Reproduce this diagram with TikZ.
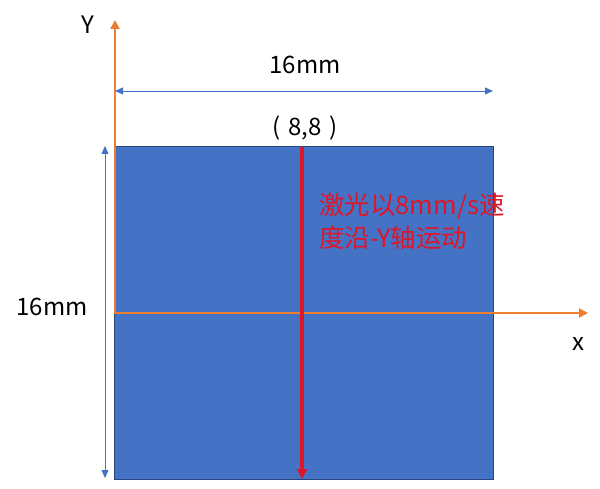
\documentclass[tikz,border=0pt]{standalone}
\usepackage{fontspec}
\setmainfont{Noto Sans CJK SC}
\usetikzlibrary{arrows.meta}
\definecolor{plateblue}{RGB}{68,114,196}
\definecolor{plateedge}{RGB}{40,70,125}
\definecolor{axisorange}{RGB}{237,125,49}
\definecolor{laserred}{RGB}{222,22,42}

\tikzset{
  dimline/.style={draw=plateblue, line width=0.8pt,
    {Triangle[length=8pt,width=7pt]}-{Triangle[length=8pt,width=7pt]}},
  axisline/.style={draw=axisorange, line width=2.8pt, line join=miter,
    {Triangle[length=9pt,width=9pt]}-{Triangle[length=9pt,width=9pt]}},
  lbl/.style={font=\fontsize{24}{27}\selectfont, inner sep=0pt},
}

\begin{document}
\begin{tikzpicture}[x=1pt,y=-1pt]
    \useasboundingbox (0,0) rectangle (600,489);

    % plate
    \draw[fill=plateblue, draw=plateedge, line width=1pt] (114,147) rectangle (493,479);

    % dimension arrows
    \coordinate (wl) at (115,91);
    \coordinate (wr) at (493,91);
    \coordinate (ht) at (105,146);
    \coordinate (hb) at (105,478);
    \draw[dimline] (wl) -- (wr);
    \draw[dimline] (ht) -- (hb);

    % axes
    \coordinate (O) at (115,313);
    \coordinate (ytip) at (115,20);
    \coordinate (xtip) at (588,313);
    \draw[axisline] (ytip) -- (O) -- (xtip);

    % laser path
    \coordinate (start) at (302,147);
    \coordinate (stop) at (302,479);
    \draw[laserred, line width=3.2pt, -{Triangle[length=10pt,width=10pt]}] (start) -- (stop);

    \node[lbl] (ylbl) at (88,25) {Y};
    \node[lbl] (xlbl) at (578,344) {x};
    \node[lbl] (wlbl) at (305,65) {16mm};
    \node[lbl] (hlbl) at (52,307) {16mm};
    \node[lbl] (mid) at (305,128) {(\hspace{8pt}8,8\hspace{8pt})};
    \node[lbl, anchor=west, text=laserred, align=left,
      font=\fontsize{25.5}{33}\selectfont] (note) at (319,221) {激光以8mm/s速\\度沿-Y轴运动};
\end{tikzpicture}
\end{document}
